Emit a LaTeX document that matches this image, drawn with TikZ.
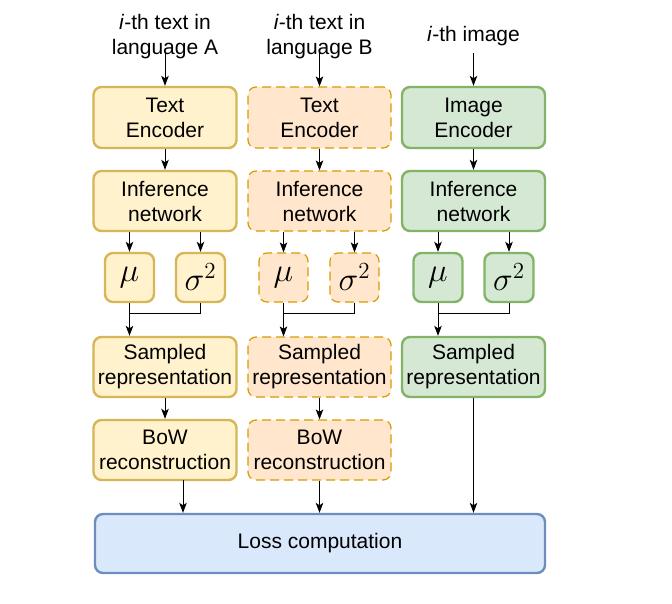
\documentclass[tikz,border=0pt]{standalone}
\usepackage{graphicx}
\usepackage{fontspec}
\setmainfont{Liberation Sans}
\usetikzlibrary{arrows.meta}
\definecolor{yfill}{HTML}{FFF2CC}
\definecolor{ydraw}{HTML}{D6B656}
\definecolor{ofill}{HTML}{FFE6CC}
\definecolor{odraw}{HTML}{D79B00}
\definecolor{gfill}{HTML}{D5E8D4}
\definecolor{gdraw}{HTML}{82B366}
\definecolor{bfill}{HTML}{DAE8FC}
\definecolor{bdraw}{HTML}{6C8EBF}
\newcommand{\bigmath}[1]{\scalebox{1.6}{$#1$}}
\tikzset{
  base/.style={rectangle, rounded corners=8pt, align=center, inner sep=0pt,
    font=\fontsize{21}{25}\selectfont},
  ybox/.style={base, fill=yfill, draw=ydraw, line width=2.4pt},
  obox/.style={base, fill=ofill, draw=odraw, line width=1.2pt, dash pattern=on 9pt off 5pt},
  gbox/.style={base, fill=gfill, draw=gdraw, line width=2.4pt},
  bbox/.style={base, fill=bfill, draw=bdraw, line width=2.4pt},
  wide/.style={minimum width=143pt, minimum height=60pt},
  small/.style={minimum width=49pt, minimum height=49pt, font=\fontsize{20.74}{25}\selectfont},
  lbl/.style={align=center, inner sep=0pt, font=\fontsize{21}{25}\selectfont},
  arr/.style={-{Stealth[length=10pt,width=7.5pt,inset=2.5pt]}, line width=0.9pt},
  ln/.style={line width=0.9pt}
}
\begin{document}
\begin{tikzpicture}[x=1pt,y=-1pt]
\useasboundingbox (0,0) rectangle (672,603);
% input labels
\node[lbl] (lA) at (165,36.5) {\textit{i}-th text in\\language A};
\node[lbl] (lB) at (319.5,36.5) {\textit{i}-th text in\\language B};
\node[lbl] (lC) at (473.5,36) {\textit{i}-th image};
\coordinate (iA) at (165,53);
\coordinate (iB) at (319.5,53);
\coordinate (iC) at (473.5,53);
% encoders
\node[ybox,wide,minimum height=61pt] (eA) at (165,117.5) {Text\\Encoder};
\node[obox,wide,minimum height=61pt] (eB) at (319.5,117.5) {Text\\Encoder};
\node[gbox,wide,minimum height=61pt] (eC) at (473.5,117.5) {Image\\Encoder};
% inference
\node[ybox,wide] (nA) at (165,201) {Inference\\network};
\node[obox,wide] (nB) at (319.5,201) {Inference\\network};
\node[gbox,wide] (nC) at (473.5,201) {Inference\\network};
% mu sigma
\node[ybox,small] (mA) at (129.5,277.5) {\bigmath{\mu}};
\node[ybox,small] (sA) at (200.5,277.5) {\bigmath{\sigma^2}};
\node[obox,small] (mB) at (283.5,277.5) {\bigmath{\mu}};
\node[obox,small] (sB) at (354.5,277.5) {\bigmath{\sigma^2}};
\node[gbox,small] (mC) at (438,277.5) {\bigmath{\mu}};
\node[gbox,small] (sC) at (509,277.5) {\bigmath{\sigma^2}};
% sampled
\node[ybox,wide] (SA) at (165,367) {Sampled\\representation};
\node[obox,wide] (SB) at (319.5,367) {Sampled\\representation};
\node[gbox,wide] (SC) at (473.5,367) {Sampled\\representation};
% BoW
\node[ybox,wide] (bA) at (165,450) {BoW\\reconstruction};
\node[obox,wide] (bB) at (319.5,450) {BoW\\reconstruction};
% loss
\node[bbox,minimum width=450pt,minimum height=59pt] (L) at (320,543.5) {Loss computation};
% connectors
\draw[arr] (iA) -- (eA);
\draw[arr] (iB) -- (eB);
\draw[arr] (iC) -- (eC);
\draw[arr] (eA) -- (nA);
\draw[arr] (eB) -- (nB);
\draw[arr] (eC) -- (nC);
\draw[arr] (nA.south -| mA) -- (mA);
\draw[arr] (nA.south -| sA) -- (sA);
\draw[arr] (nB.south -| mB) -- (mB);
\draw[arr] (nB.south -| sB) -- (sB);
\draw[arr] (nC.south -| mC) -- (mC);
\draw[arr] (nC.south -| sC) -- (sC);
\coordinate (jA) at (129.5,313);
\coordinate (jB) at (283.5,313);
\coordinate (jC) at (438,313);
\draw[ln] (sA.south) |- (jA);
\draw[ln] (sB.south) |- (jB);
\draw[ln] (sC.south) |- (jC);
\draw[arr] (mA.south) -- (mA.south |- SA.north);
\draw[arr] (mB.south) -- (mB.south |- SB.north);
\draw[arr] (mC.south) -- (mC.south |- SC.north);
\draw[arr] (SA) -- (bA);
\draw[arr] (SB) -- (bB);
\coordinate (oA) at (183,480);
\draw[arr] (oA) -- (oA |- L.north);
\draw[arr] (bB) -- (bB |- L.north);
\draw[arr] (SC) -- (SC |- L.north);
\end{tikzpicture}
\end{document}
